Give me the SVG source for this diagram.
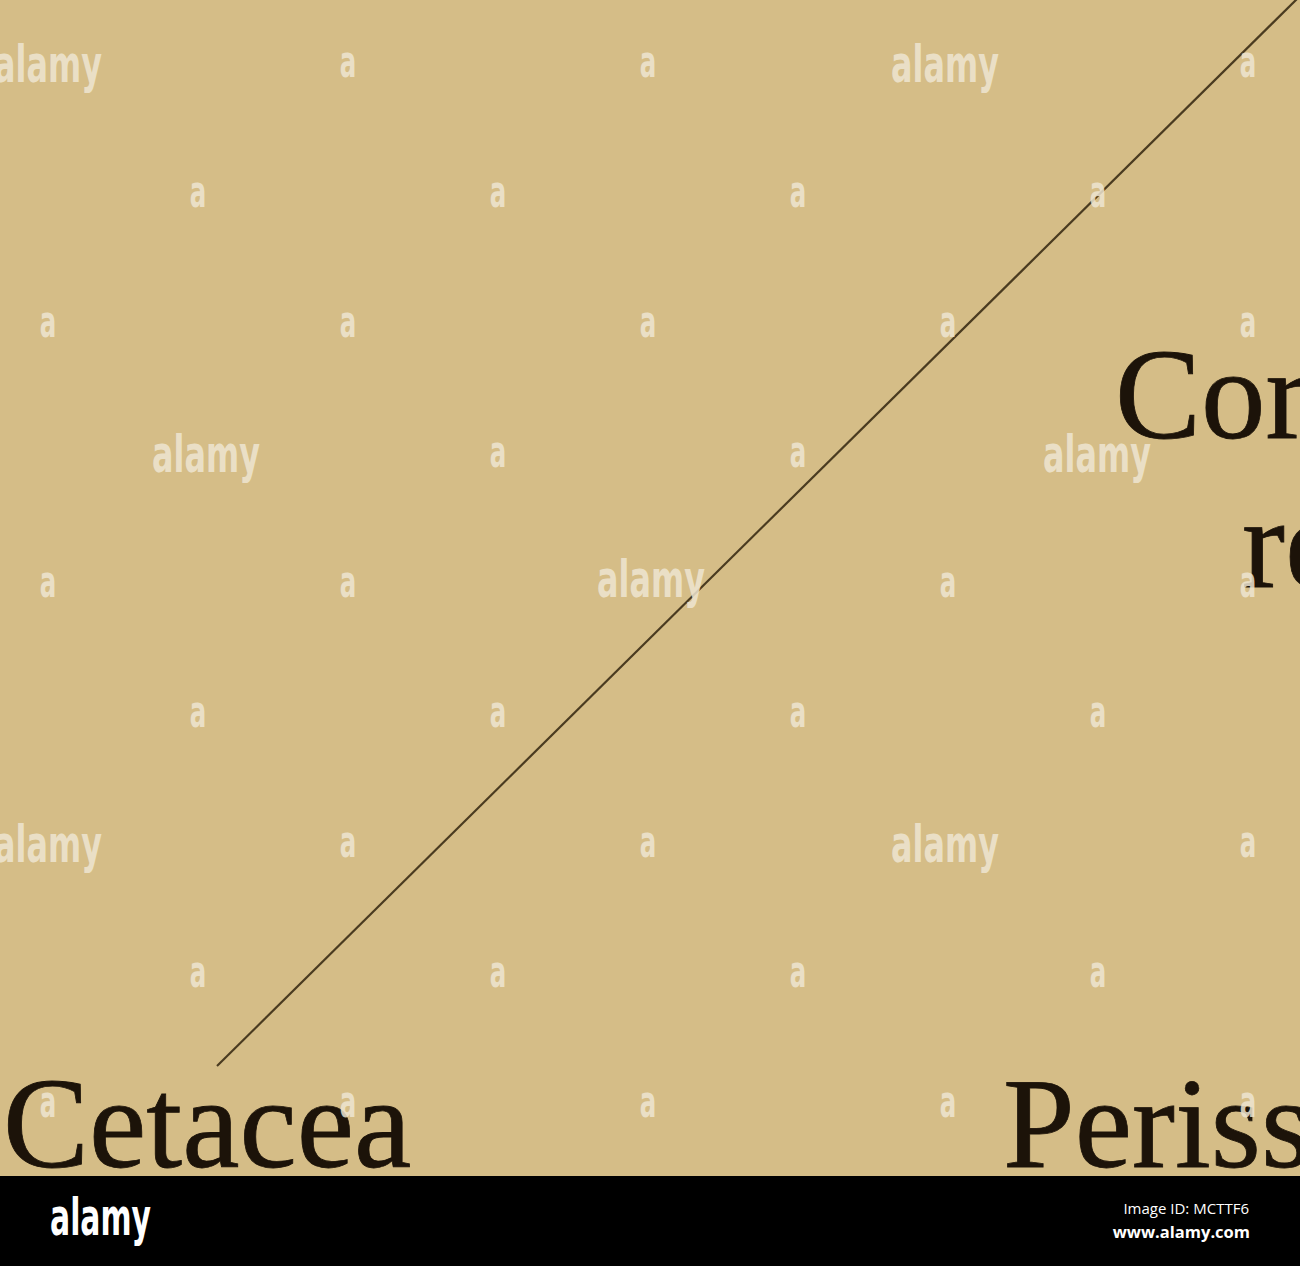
<svg xmlns="http://www.w3.org/2000/svg" xmlns:xlink="http://www.w3.org/1999/xlink" width="1300" height="1266" viewBox="0 0 1300 1266">
<style>
.lbl{font-family:"Liberation Serif","Times New Roman",serif;font-size:129px;fill:#1c1309;stroke:#1c1309;stroke-width:0.8}
.wm{font-family:"Liberation Sans Narrow","DejaVu Sans Condensed","Liberation Sans",sans-serif;font-weight:bold;fill:#efe6d2;fill-opacity:0.85}
.ft{font-family:"Open Sans","Noto Sans",sans-serif;fill:#ffffff}
</style>
<defs>
<text id="wa" class="wm" font-size="44" text-anchor="middle" transform="scale(0.62,1)">a</text>
<text id="wal" class="wm" font-size="52" textLength="108" lengthAdjust="spacingAndGlyphs">alamy</text>
</defs>
<rect x="0" y="0" width="1300" height="1176" fill="#d5bd87"/>
<g id="connectors">
<line x1="217" y1="1066" x2="1300" y2="-4" stroke="#4a3b20" stroke-width="2.2"/>
</g>
<g id="node-cetacea"><text class="lbl" x="3" y="1167">Cetacea</text></g>
<g id="node-periss"><text class="lbl" x="1003" y="1167">Periss</text></g>
<g id="node-con"><text class="lbl" x="1115" y="438">Cor</text></g>
<g id="node-re"><text class="lbl" x="1242" y="587">re</text></g>
<g id="watermarks">
<g transform="translate(-6,82)"><use xlink:href="#wal"/></g>
<g transform="translate(891,82)"><use xlink:href="#wal"/></g>
<g transform="translate(152,472)"><use xlink:href="#wal"/></g>
<g transform="translate(1043,472)"><use xlink:href="#wal"/></g>
<g transform="translate(597,597)"><use xlink:href="#wal"/></g>
<g transform="translate(-6,862)"><use xlink:href="#wal"/></g>
<g transform="translate(891,862)"><use xlink:href="#wal"/></g>
<g transform="translate(348,77)"><use xlink:href="#wa"/></g>
<g transform="translate(648,77)"><use xlink:href="#wa"/></g>
<g transform="translate(1248,77)"><use xlink:href="#wa"/></g>
<g transform="translate(198,207)"><use xlink:href="#wa"/></g>
<g transform="translate(498,207)"><use xlink:href="#wa"/></g>
<g transform="translate(798,207)"><use xlink:href="#wa"/></g>
<g transform="translate(1098,207)"><use xlink:href="#wa"/></g>
<g transform="translate(48,337)"><use xlink:href="#wa"/></g>
<g transform="translate(348,337)"><use xlink:href="#wa"/></g>
<g transform="translate(648,337)"><use xlink:href="#wa"/></g>
<g transform="translate(948,337)"><use xlink:href="#wa"/></g>
<g transform="translate(1248,337)"><use xlink:href="#wa"/></g>
<g transform="translate(498,467)"><use xlink:href="#wa"/></g>
<g transform="translate(798,467)"><use xlink:href="#wa"/></g>
<g transform="translate(48,597)"><use xlink:href="#wa"/></g>
<g transform="translate(348,597)"><use xlink:href="#wa"/></g>
<g transform="translate(948,597)"><use xlink:href="#wa"/></g>
<g transform="translate(1248,597)"><use xlink:href="#wa"/></g>
<g transform="translate(198,727)"><use xlink:href="#wa"/></g>
<g transform="translate(498,727)"><use xlink:href="#wa"/></g>
<g transform="translate(798,727)"><use xlink:href="#wa"/></g>
<g transform="translate(1098,727)"><use xlink:href="#wa"/></g>
<g transform="translate(348,857)"><use xlink:href="#wa"/></g>
<g transform="translate(648,857)"><use xlink:href="#wa"/></g>
<g transform="translate(1248,857)"><use xlink:href="#wa"/></g>
<g transform="translate(198,987)"><use xlink:href="#wa"/></g>
<g transform="translate(498,987)"><use xlink:href="#wa"/></g>
<g transform="translate(798,987)"><use xlink:href="#wa"/></g>
<g transform="translate(1098,987)"><use xlink:href="#wa"/></g>
<g transform="translate(48,1117)"><use xlink:href="#wa"/></g>
<g transform="translate(348,1117)"><use xlink:href="#wa"/></g>
<g transform="translate(648,1117)"><use xlink:href="#wa"/></g>
<g transform="translate(948,1117)"><use xlink:href="#wa"/></g>
<g transform="translate(1248,1117)"><use xlink:href="#wa"/></g>
</g>
<g id="footer">
<rect x="0" y="1176" width="1300" height="90" fill="#000000"/>
<text class="wm" x="50" y="1235" font-size="52" textLength="101" lengthAdjust="spacingAndGlyphs" style="fill:#ffffff;fill-opacity:1">alamy</text>
<text class="ft" x="1249" y="1214" font-size="15" text-anchor="end">Image ID: MCTTF6</text>
<text class="ft" x="1250" y="1238" font-size="16.5" font-weight="bold" text-anchor="end">www.alamy.com</text>
</g>
</svg>
